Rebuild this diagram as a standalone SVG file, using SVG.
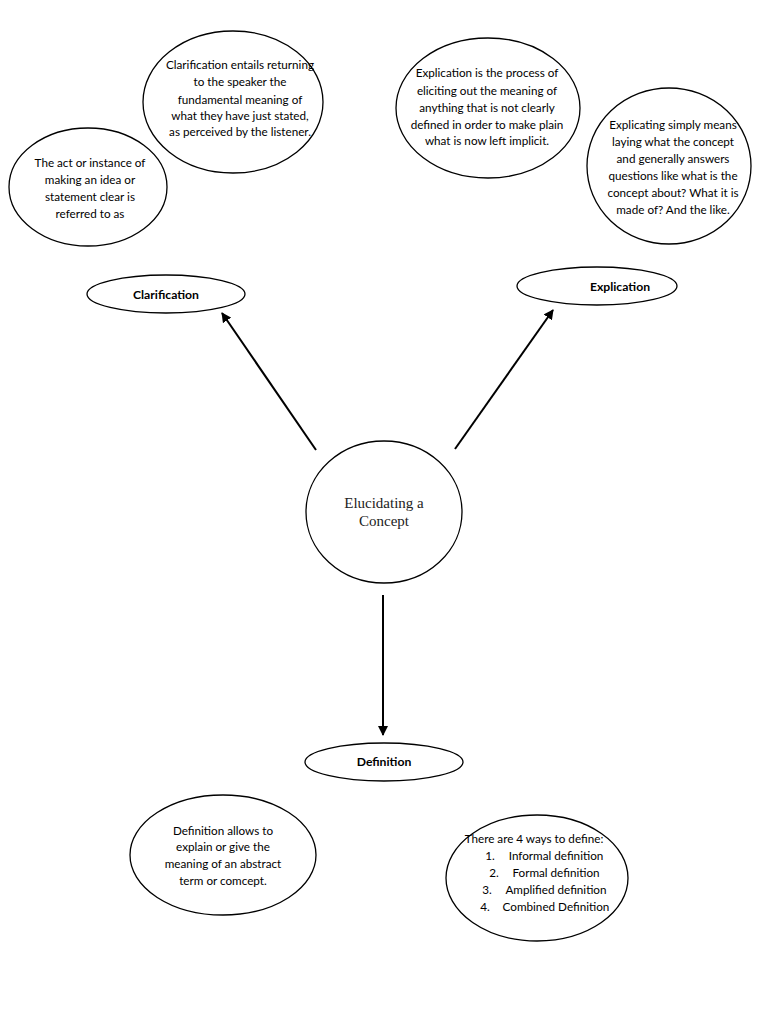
<svg xmlns="http://www.w3.org/2000/svg" width="768" height="1024" viewBox="0 0 768 1024">
<style>
.node{fill:#fff;stroke:#000;stroke-width:1.3}
.t{font-family:Lato,"Open Sans","Liberation Sans",sans-serif;font-size:11.7px;fill:#000;text-anchor:middle}
.lbl{font-family:Lato,"Open Sans","Liberation Sans",sans-serif;font-size:12.2px;font-weight:bold;fill:#000;text-anchor:middle}
.ser{font-family:"Liberation Serif","DejaVu Serif",serif;font-size:15px;fill:#222;text-anchor:middle}
.conn{stroke:#000;stroke-width:2;fill:none;marker-end:url(#ah)}
</style>
<defs>
<marker id="ah" viewBox="0 0 10 10" refX="9" refY="5" markerWidth="5" markerHeight="5" orient="auto" markerUnits="strokeWidth">
<path d="M0,0 L10,5 L0,10 z" fill="#000"/>
</marker>
</defs>
<rect width="768" height="1024" fill="#fff"/>
<g id="connectors">
<line class="conn" x1="316" y1="450" x2="222" y2="313"/>
<line class="conn" x1="455" y1="449" x2="553" y2="310"/>
<line class="conn" x1="383" y1="595" x2="383" y2="735"/>
</g>
<g id="center">
<ellipse class="node" cx="384" cy="512" rx="78" ry="71"/>
<text class="ser" x="384" y="508">Elucidating a</text>
<text class="ser" x="384" y="526">Concept</text>
</g>
<g id="clarification">
<ellipse class="node" cx="166" cy="294" rx="79" ry="19"/>
<text class="lbl" x="166" y="299">Clarification</text>
</g>
<g id="explication">
<ellipse class="node" cx="597" cy="286" rx="80" ry="19"/>
<text class="lbl" x="620" y="291">Explication</text>
</g>
<g id="definition">
<ellipse class="node" cx="384" cy="762" rx="79" ry="19"/>
<text class="lbl" x="384" y="766">Definition</text>
</g>
<g id="clar-act">
<ellipse class="node" cx="88" cy="187" rx="79" ry="59"/>
<text class="t" x="90" y="167">The act or instance of</text>
<text class="t" x="90" y="184">making an idea or</text>
<text class="t" x="90" y="201">statement clear is</text>
<text class="t" x="90" y="218">referred to as</text>
</g>
<g id="clar-entails">
<ellipse class="node" cx="233" cy="102" rx="90" ry="71"/>
<text class="t" x="240" y="69">Clarification entails returning</text>
<text class="t" x="240" y="86">to the speaker the</text>
<text class="t" x="240" y="104">fundamental meaning of</text>
<text class="t" x="240" y="120">what they have just stated,</text>
<text class="t" x="240" y="136">as perceived by the listener.</text>
</g>
<g id="expl-process">
<ellipse class="node" cx="488" cy="108" rx="92" ry="70"/>
<text class="t" x="487" y="77">Explication is the process of</text>
<text class="t" x="487" y="95">eliciting out the meaning of</text>
<text class="t" x="487" y="112">anything that is not clearly</text>
<text class="t" x="487" y="129">defined in order to make plain</text>
<text class="t" x="487" y="145">what is now left implicit.</text>
</g>
<g id="expl-simply">
<ellipse class="node" cx="669" cy="166" rx="82" ry="78"/>
<text class="t" x="673" y="129">Explicating simply means</text>
<text class="t" x="673" y="146">laying what the concept</text>
<text class="t" x="673" y="163">and generally answers</text>
<text class="t" x="673" y="180">questions like what is the</text>
<text class="t" x="673" y="197">concept about? What it is</text>
<text class="t" x="673" y="214">made of? And the like.</text>
</g>
<g id="def-allows">
<ellipse class="node" cx="223" cy="855" rx="93" ry="60"/>
<text class="t" x="223" y="835">Definition allows to</text>
<text class="t" x="223" y="851">explain or give the</text>
<text class="t" x="223" y="868">meaning of an abstract</text>
<text class="t" x="223" y="885">term or comcept.</text>
</g>
<g id="def-ways">
<ellipse class="node" cx="537" cy="878" rx="91" ry="63"/>
<text class="t" x="534" y="843">There are 4 ways to define:</text>
<text class="t" x="490" y="860">1.</text><text class="t" x="556" y="860">Informal definition</text>
<text class="t" x="494" y="877">2.</text><text class="t" x="556" y="877">Formal definition</text>
<text class="t" x="487" y="894">3.</text><text class="t" x="556" y="894">Amplified definition</text>
<text class="t" x="485" y="911">4.</text><text class="t" x="556" y="911">Combined Definition</text>
</g>
</svg>
